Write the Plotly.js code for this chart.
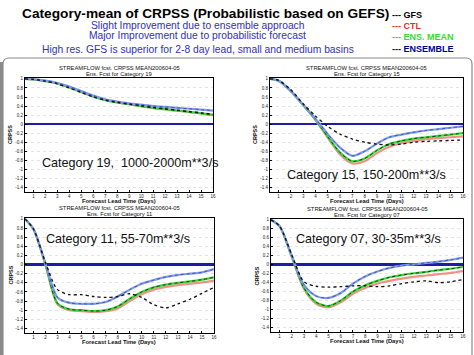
<!DOCTYPE html>
<html><head><meta charset="utf-8">
<script src="https://cdn.plot.ly/plotly-3.0.1.min.js"></script>
<style>html,body{margin:0;padding:0;background:#fff;}#chart{width:474px;height:355px;}</style>
</head><body><div id="chart"></div>
<script>
// Forecast lead time (days)
const days = [0.3,1,2,3,4,5,6,7,8,9,10,11,12,13,14,15,16];
const yTicks = [1,0.8,0.6,0.4,0.2,0,-0.2,-0.4,-0.6,-0.8,-1,-1.2,-1.4];
const yTickText = ['1','0.8','0.6','0.4','0.2','0','-0.2','-0.4','-0.6','-0.8','-1','-1.2','-1.4'];
const xTicks = [1,2,3,4,5,6,7,8,9,10,11,12,13,14,15,16];

// Category 19 (1000-2000 m**3/s)
const cat19_gfs      = [1.0,0.99,0.95,0.89,0.80,0.70,0.60,0.53,0.48,0.44,0.41,0.37,0.34,0.31,0.28,0.25,0.22];
const cat19_ctl      = [1.0,0.99,0.96,0.90,0.82,0.72,0.62,0.54,0.48,0.44,0.40,0.36,0.33,0.30,0.27,0.24,0.21];
const cat19_ensmean  = [1.0,0.99,0.95,0.90,0.81,0.71,0.61,0.53,0.48,0.44,0.40,0.36,0.33,0.30,0.27,0.24,0.20];
const cat19_ensemble = [1.0,0.99,0.96,0.91,0.83,0.73,0.63,0.55,0.50,0.46,0.43,0.40,0.38,0.36,0.34,0.32,0.30];
// Category 15 (150-200 m**3/s)
const cat15_gfs      = [1.0,0.97,0.76,0.45,0.18,-0.05,-0.22,-0.33,-0.40,-0.44,-0.46,-0.44,-0.40,-0.38,-0.37,-0.36,-0.35];
const cat15_ctl      = [1.0,0.96,0.73,0.42,0.09,-0.30,-0.67,-0.87,-0.82,-0.64,-0.50,-0.42,-0.37,-0.33,-0.31,-0.29,-0.27];
const cat15_ensmean  = [1.0,0.96,0.73,0.42,0.10,-0.28,-0.63,-0.82,-0.76,-0.58,-0.44,-0.37,-0.32,-0.29,-0.26,-0.23,-0.20];
const cat15_ensemble = [1.0,0.96,0.73,0.43,0.12,-0.22,-0.52,-0.70,-0.60,-0.43,-0.29,-0.23,-0.18,-0.14,-0.11,-0.08,-0.05];
// Category 11 (55-70 m**3/s)
const cat11_gfs      = [1.0,0.78,0.05,-0.55,-0.66,-0.66,-0.70,-0.72,-0.70,-0.64,-0.72,-0.88,-0.95,-0.86,-0.76,-0.63,-0.50];
const cat11_ctl      = [1.0,0.78,0.0,-0.87,-1.0,-1.02,-1.04,-1.02,-0.96,-0.80,-0.65,-0.55,-0.49,-0.45,-0.42,-0.39,-0.35];
const cat11_ensmean  = [1.0,0.78,0.0,-0.85,-0.98,-1.0,-1.02,-1.0,-0.92,-0.75,-0.60,-0.50,-0.44,-0.40,-0.37,-0.33,-0.28];
const cat11_ensemble = [1.0,0.78,0.02,-0.72,-0.84,-0.86,-0.86,-0.82,-0.70,-0.55,-0.42,-0.34,-0.27,-0.23,-0.20,-0.17,-0.10];
// Category 07 (30-35 m**3/s)
const cat07_gfs      = [1.0,0.86,0.22,-0.38,-0.48,-0.50,-0.49,-0.47,-0.47,-0.49,-0.47,-0.42,-0.38,-0.36,-0.40,-0.38,-0.33];
const cat07_ctl      = [1.0,0.86,0.18,-0.54,-0.87,-0.95,-0.84,-0.65,-0.52,-0.42,-0.36,-0.31,-0.27,-0.24,-0.21,-0.18,-0.14];
const cat07_ensmean  = [1.0,0.86,0.18,-0.52,-0.84,-0.92,-0.80,-0.60,-0.46,-0.36,-0.28,-0.23,-0.19,-0.16,-0.12,-0.09,-0.05];
const cat07_ensemble = [1.0,0.86,0.20,-0.45,-0.70,-0.74,-0.63,-0.42,-0.26,-0.15,-0.07,-0.02,0.01,0.04,0.07,0.11,0.16];

const panels = [
  {gfs:cat19_gfs, ctl:cat19_ctl, em:cat19_ensmean, ens:cat19_ensemble, cat:'19', label:'Category 19,  1000-2000m**3/s',
   box:[25,213,78,192], lab:[40,163]},
  {gfs:cat15_gfs, ctl:cat15_ctl, em:cat15_ensmean, ens:cat15_ensemble, cat:'15', label:'Category 15, 150-200m**3/s',
   box:[270,463,78,192], lab:[285,175]},
  {gfs:cat11_gfs, ctl:cat11_ctl, em:cat11_ensmean, ens:cat11_ensemble, cat:'11', label:'Category 11, 55-70m**3/s',
   box:[25,214,218,333], lab:[44,239]},
  {gfs:cat07_gfs, ctl:cat07_ctl, em:cat07_ensmean, ens:cat07_ensemble, cat:'07', label:'Category 07, 30-35m**3/s',
   box:[271,463,219,332], lab:[294,239]}
];

const W=474, H=355;
const px = x => x/W, py = y => 1 - y/H;
const FONT = 'Liberation Sans, Arial, sans-serif';

const traces = [];
const layout = {
  width:W, height:H, margin:{l:0,r:0,t:0,b:0},
  paper_bgcolor:'#fff', plot_bgcolor:'#fff', showlegend:false,
  font:{family:FONT},
  title:{text:'<b>Category-mean of CRPSS (Probabilistic based on GEFS)</b>', x:px(22), xanchor:'left', xref:'paper',
         y:py(13), yanchor:'middle', yref:'paper', font:{size:13.7, color:'#000', family:FONT}},
  annotations:[], shapes:[]
};

panels.forEach((p,i)=>{
  const n = i===0 ? '' : String(i+1);
  const xa='x'+n, ya='y'+n;
  const [l,r,t,b] = p.box;
  layout['xaxis'+n] = {domain:[px(l),px(r)], anchor:ya, range:[0.3,16], tickvals:xTicks,
    tickfont:{size:4.5,color:'#222'}, showline:true, mirror:true, linecolor:'#000', linewidth:1,
    ticks:'inside', ticklen:2, tickcolor:'#000', showgrid:false, zeroline:false, fixedrange:true};
  layout['yaxis'+n] = {domain:[py(b),py(t)], anchor:xa, range:[-1.5,1.02], tickvals:yTicks, ticktext:yTickText,
    tickfont:{size:4.5,color:'#222'}, showline:true, mirror:true, linecolor:'#000', linewidth:1,
    ticks:'inside', ticklen:2, tickcolor:'#000', showgrid:true, gridcolor:'#e4e4e4', griddash:'dot', gridwidth:1,
    zeroline:true, zerolinecolor:'#1c1ca8', zerolinewidth:2.6, fixedrange:true};
  const mk = (y,color,width,dash) => ({x:days, y:y, xaxis:xa, yaxis:ya, type:'scatter', mode:'lines',
    line:{color:color, width:width, dash:dash, shape:'spline', smoothing:0.8}, hoverinfo:'skip'});
  traces.push(mk(p.ctl,'#f29088',2.2,'solid'));
  traces.push(mk(p.em,'#33d633',2.2,'solid'));
  traces.push(mk(p.em,'#1a3a1a',1,'dot'));
  traces.push(mk(p.ens,'#8099ee',2.2,'solid'));
  traces.push(mk(p.ens,'#3a4fa8',0.9,'dot'));
  traces.push(mk(p.gfs,'#111',1.3,'dot'));

  const cx = (l+r)/2;
  layout.annotations.push({text:'STREAMFLOW fcst. CRPSS MEAN200604-05', x:px(cx), y:py(t-9.8), xref:'paper', yref:'paper',
    showarrow:false, font:{size:5.8,color:'#111',family:FONT}, xanchor:'center', yanchor:'middle'});
  layout.annotations.push({text:'Ens. Fcst for Category '+p.cat, x:px(cx), y:py(t-4), xref:'paper', yref:'paper',
    showarrow:false, font:{size:5.8,color:'#111',family:FONT}, xanchor:'center', yanchor:'middle'});
  layout.annotations.push({text:'<b>Forecast Lead Time (Days)</b>', x:px(cx), y:py(b+9), xref:'paper', yref:'paper',
    showarrow:false, font:{size:5.8,color:'#111',family:FONT}, xanchor:'center', yanchor:'middle'});
  layout.annotations.push({text:'<b>CRPSS</b>', x:px(l-15), y:py((t+b)/2), xref:'paper', yref:'paper', textangle:-90,
    showarrow:false, font:{size:5.5,color:'#111',family:FONT}, xanchor:'center', yanchor:'middle'});
  layout.annotations.push({text:p.label, x:px(p.lab[0]), y:py(p.lab[1]), xref:'paper', yref:'paper',
    showarrow:false, font:{size:12.6,color:'#111',family:FONT}, xanchor:'left', yanchor:'middle'});
});

// Subtitle lines
const subs = [['Slight Improvement due to ensemble approach',25],['Major Improvement due to probabilistic forecast',36],
              ['High res. GFS is superior for 2-8 day lead, small and medium basins',49]];
subs.forEach(s=>layout.annotations.push({text:s[0], x:px(197.5), y:py(s[1]), xref:'paper', yref:'paper', showarrow:false,
  font:{size:10.3,color:'#3030b8',family:FONT}, xanchor:'center', yanchor:'middle'}));
// Legend text
const legendItems = [['--- GFS','#000',15],['--- CTL','#e8321a',26],['--- ENS. MEAN','#33dd33',37],['--- ENSEMBLE','#000099',49]];
legendItems.forEach(s=>layout.annotations.push({text:'<b>'+s[0]+'</b>', x:px(390), y:py(s[2]), xref:'paper', yref:'paper', showarrow:false,
  font:{size:9,color:s[1],family:FONT}, xanchor:'left', yanchor:'middle'}));

// Slide frame
layout.shapes.push({type:'path', xref:'paper', yref:'paper', layer:'below',
  path:`M ${px(3)} ${py(360)} L ${px(3)} ${py(64)} Q ${px(3)} ${py(58)} ${px(9)} ${py(58)} L ${px(466)} ${py(58)} Q ${px(472)} ${py(58)} ${px(472)} ${py(64)} L ${px(472)} ${py(360)}`,
  line:{color:'#8a8a8a', width:1.2}});
layout.shapes.push({type:'rect', xref:'paper', yref:'paper', layer:'below', x0:px(0), x1:px(3), y0:py(355), y1:py(62),
  fillcolor:'#8a8a8a', line:{width:0}});

Plotly.newPlot('chart', traces, layout, {displayModeBar:false, staticPlot:true});
</script></body></html>
